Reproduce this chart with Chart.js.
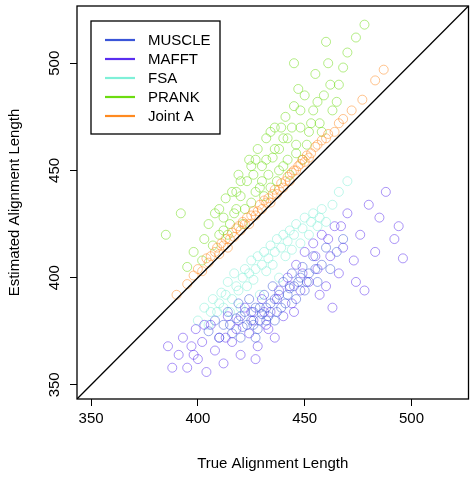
<!DOCTYPE html>
<html>
<head>
<meta charset="utf-8">
<script src="https://cdn.jsdelivr.net/npm/chart.js@4"></script>
<style>
  html, body { margin: 0; padding: 0; background: #fff; }
  #wrap { width: 474px; height: 477px; }
</style>
</head>
<body>
<div id="wrap"><canvas id="chart"></canvas></div>
<script>
const tickValues = [350, 400, 450, 500];
const axisMin = 343.4;
const axisMax = 526.7;

const seriesNames = ['MUSCLE', 'MAFFT', 'FSA', 'PRANK', 'Joint A'];
const seriesColors = ['#3a55d8', '#5a2ef0', '#7ff0d8', '#6cdc10', '#ff8a20'];

const musclePoints = [[405,375],[408,380],[410,372],[412,378],[414,384],[416,374],[418,381],[419,388],[421,377],[422,384],[424,390],[425,380],[427,386],[428,376],[430,383],[431,392],[432,380],[434,388],[435,396],[437,384],[438,392],[440,398],[441,388],[443,395],[444,402],[446,390],[447,398],[449,405],[450,394],[452,402],[454,410],[456,398],[458,406],[460,414],[462,404],[465,412],[468,418],[426,378],[433,382],[429,386],
    [415,378],[420,382],[423,378],[426,384],[429,380],[432,386],[436,390],[439,386],[442,392],[445,396],[448,400],[451,398],[455,404],[420,372],[427,372],[436,380]];
const mafftPoints = [[386,368],[388,358],[391,364],[393,372],[395,358],[397,368],[399,376],[400,362],[402,370],[404,356],[406,378],[408,366],[410,372],[412,360],[414,382],[416,370],[418,376],[420,364],[422,386],[424,374],[426,380],[428,368],[430,390],[432,378],[434,384],[436,372],[438,394],[440,382],[442,400],[444,388],[446,406],[448,394],[450,412],[452,398],[454,416],[456,404],[458,420],[460,396],[462,410],[464,424],[466,402],[468,414],[470,430],[473,408],[476,420],[478,394],[480,434],[483,412],[485,428],[488,440],[492,418],[494,424],[496,409],[474,398],[463,386],
    [413,372],[419,380],[425,384],[431,384],[437,390],[443,396],[449,402],[455,410],[461,418],[467,424],[433,376],[427,362],[445,384],[457,392],[403,378],[398,364]];
const fsaPoints = [[400,380],[403,386],[405,378],[407,390],[409,384],[411,393],[412,386],[414,398],[416,390],[417,402],[419,394],[420,386],[422,404],[423,396],[425,408],[426,399],[428,410],[429,392],[431,412],[432,403],[434,415],[435,406],[437,418],[438,400],[440,420],[441,410],[443,422],[444,413],[446,425],[448,416],[450,428],[452,420],[454,430],[456,424],[458,432],[460,426],[463,434],[466,440],[470,445],
    [410,388],[413,392],[418,396],[421,400],[424,402],[427,404],[430,406],[433,409],[436,412],[439,414],[442,417],[445,420],[449,423],[453,426],[457,428],[415,384],[406,384]];
const prankPoints = [[395,405],[398,412],[402,408],[403,418],[405,425],[407,415],[408,430],[410,420],[412,428],[413,437],[415,425],[416,440],[418,432],[419,448],[420,438],[421,425],[423,445],[424,455],[425,435],[426,448],[428,460],[429,442],[430,452],[431,438],[432,465],[433,448],[435,456],[436,470],[437,445],[438,460],[440,452],[441,475],[442,465],[443,448],[445,480],[446,462],[448,470],[449,455],[450,485],[452,468],[454,478],[455,495],[457,472],[459,485],[461,500],[463,478],[466,490],[470,505],[474,512],[478,518],[385,420],[392,430],[460,510],[445,500],
    [410,432],[414,420],[417,430],[420,445],[422,432],[425,452],[427,440],[430,445],[432,455],[434,442],[436,460],[438,450],[440,465],[442,455],[444,470],[446,458],[448,478],[451,462],[453,472],[456,482],[458,468],[462,490],[465,482],[468,498],[434,468],[427,455],[418,440],[412,422],[439,470],[447,488]];
const jointPoints = [[390,392],[395,397],[398,401],[400,404],[402,403],[404,409],[406,410],[408,412],[410,411],[411,416],[413,418],[414,414],[416,421],[417,419],[419,424],[420,422],[421,426],[423,428],[424,425],[426,431],[427,429],[429,434],[430,432],[431,436],[433,437],[434,435],[436,441],[437,439],[439,444],[440,442],[442,447],[443,445],[445,450],[447,452],[449,455],[451,457],[453,458],[455,461],[458,464],[461,467],[464,468],[468,474],[472,478],[477,483],[483,492],[487,497],
    [405,407],[409,414],[412,415],[415,418],[418,423],[422,425],[425,429],[428,431],[432,435],[435,439],[438,441],[441,445],[444,449],[446,450],[448,453],[450,454],[452,456],[456,462],[460,465],[466,472]];

const allPoints = [musclePoints, mafftPoints, fsaPoints, prankPoints, jointPoints];
// drawing order: higher "order" is drawn first (underneath)
const drawOrder = [2, 3, 4, 5, 1];

function alpha(hex, a) {
    const n = parseInt(hex.slice(1), 16);
    return `rgba(${n >> 16}, ${(n >> 8) & 255}, ${n & 255}, ${a})`;
}

const datasets = allPoints.map(function (pts, i) {
    return {
        label: seriesNames[i],
        data: pts.map(p => ({ x: p[0], y: p[1] })),
        borderColor: alpha(seriesColors[i], 0.5),
        backgroundColor: 'rgba(0,0,0,0)',
        borderWidth: 1,
        pointRadius: 4.5,
        order: drawOrder[i]
    };
});
datasets.push({
    label: 'diagonal',
    type: 'line',
    data: [{ x: axisMin, y: axisMin }, { x: axisMax, y: axisMax }],
    borderColor: '#000',
    borderWidth: 1.3,
    pointRadius: 0,
    order: 0
});

const font = { family: 'Liberation Sans, Helvetica, Arial, sans-serif', size: 15 };

const framePlugin = {
    id: 'frame',
    afterDraw(chart) {
        const ctx = chart.ctx;
        const a = chart.chartArea;
        ctx.save();
        ctx.strokeStyle = '#000';
        ctx.lineWidth = 1.3;
        ctx.strokeRect(a.left, a.top, a.right - a.left, a.bottom - a.top);
        // rotated y tick labels
        const ys = chart.scales.y;
        ctx.fillStyle = '#000';
        ctx.font = `${font.size}px ${font.family}`;
        ctx.textAlign = 'center';
        ctx.textBaseline = 'middle';
        tickValues.forEach(function (v) {
            const py = ys.getPixelForValue(v);
            ctx.save();
            ctx.translate(a.left - 22, py);
            ctx.rotate(-Math.PI / 2);
            ctx.fillText(String(v), 0, 0);
            ctx.restore();
        });
        // legend
        const lx = 91, ly = 21, lw = 129, lh = 113;
        ctx.fillStyle = '#fff';
        ctx.fillRect(lx, ly, lw, lh);
        ctx.strokeRect(lx, ly, lw, lh);
        ctx.textAlign = 'left';
        seriesNames.forEach(function (name, i) {
            const y = ly + 19 + i * 19;
            ctx.strokeStyle = seriesColors[i];
            ctx.lineWidth = 2.2;
            ctx.beginPath();
            ctx.moveTo(lx + 14, y);
            ctx.lineTo(lx + 44, y);
            ctx.stroke();
            ctx.fillStyle = '#000';
            ctx.fillText(name, lx + 57, y + 1);
        });
        ctx.restore();
    }
};

new Chart(document.getElementById('chart'), {
    type: 'scatter',
    data: { datasets: datasets },
    options: {
        responsive: true,
        maintainAspectRatio: false,
        animation: false,
        layout: { padding: { top: 6, right: 3, left: 0, bottom: 0 } },
        plugins: { legend: { display: false }, tooltip: { enabled: false } },
        scales: {
            x: {
                min: axisMin, max: axisMax,
                afterBuildTicks: s => { s.ticks = tickValues.map(v => ({ value: v })); },
                afterFit: s => { s.height = 78; },
                grid: { drawOnChartArea: false, tickLength: 7, tickColor: '#000' },
                border: { display: false },
                ticks: { color: '#000', font: font, padding: 4, maxRotation: 0 },
                title: { display: true, text: 'True Alignment Length', color: '#000', font: font, padding: { top: 0 } }
            },
            y: {
                min: axisMin, max: axisMax,
                afterBuildTicks: s => { s.ticks = tickValues.map(v => ({ value: v })); },
                afterFit: s => { s.width = 77; },
                grid: { drawOnChartArea: false, tickLength: 7, tickColor: '#000' },
                border: { display: false },
                ticks: { display: false },
                title: { display: true, text: 'Estimated Alignment Length', color: '#000', font: font, padding: { top: 6, bottom: 30 } }
            }
        }
    },
    plugins: [framePlugin]
});
</script>
</body>
</html>
